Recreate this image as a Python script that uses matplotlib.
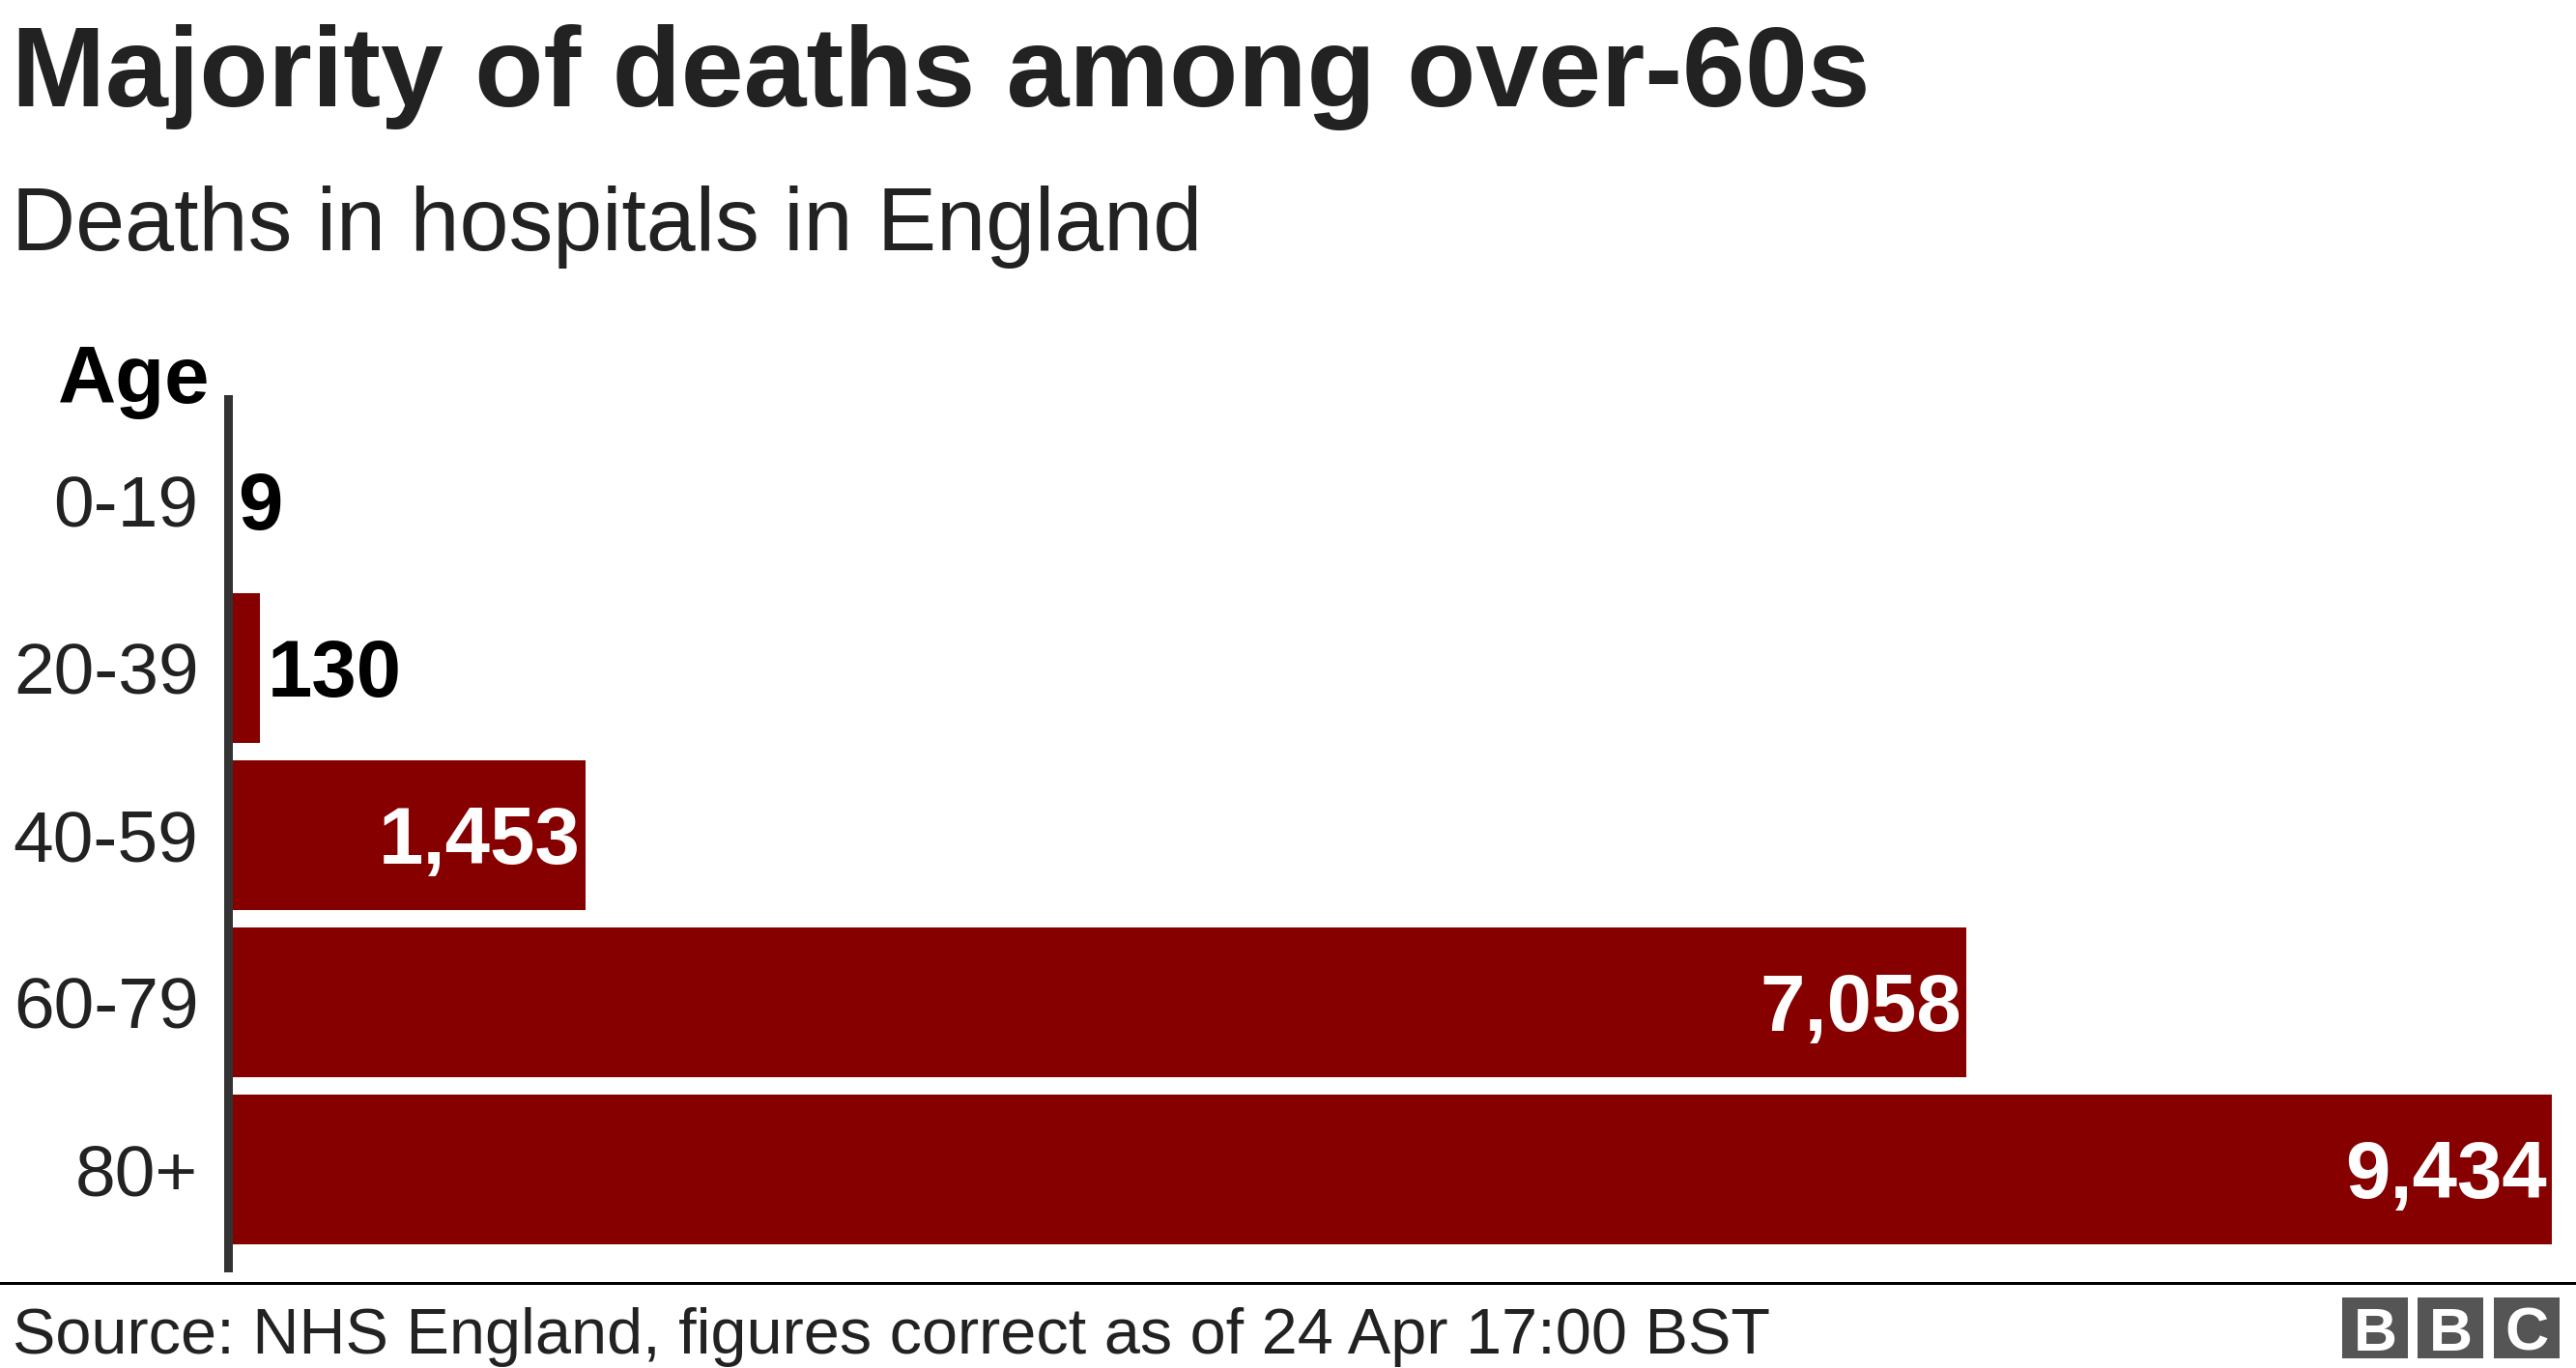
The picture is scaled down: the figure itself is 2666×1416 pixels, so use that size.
import matplotlib
matplotlib.use("Agg")
import matplotlib.pyplot as plt
from matplotlib.patches import Rectangle

# ---- data ----
age_groups = ["0-19", "20-39", "40-59", "60-79", "80+"]
deaths = [9, 130, 1453, 7058, 9434]
value_labels = ["9", "130", "1,453", "7,058", "9,434"]

title = "Majority of deaths among over-60s"
subtitle = "Deaths in hospitals in England"
axis_title = "Age"
source = "Source: NHS England, figures correct as of 24 Apr 17:00 BST"

W, H = 2666, 1416
DPI = 100
plt.rcParams['font.family'] = ['Liberation Sans', 'DejaVu Sans']

fig = plt.figure(figsize=(W / DPI, H / DPI), dpi=DPI)
fig.patch.set_facecolor("white")

def fx(px):
    return px / W

def fy(py_top):
    return (H - py_top) / H

bar_color = "#860000"
text_dark = "#222222"

ax_left, ax_right = 236, 2641
ax_top, ax_bottom = 413, 1312
ax = fig.add_axes([fx(ax_left), fy(ax_bottom), fx(ax_right - ax_left), (ax_bottom - ax_top) / H])

y = list(range(len(age_groups)))
ax.barh(y, deaths, height=0.896, color=bar_color, zorder=1)
ax.set_xlim(0, max(deaths))
ax.set_ylim(4.587, -0.61)

for s in ["top", "right", "bottom"]:
    ax.spines[s].set_visible(False)
ax.spines["left"].set_linewidth(9 * 72 / DPI)
ax.spines["left"].set_color("#333333")
ax.spines["left"].set_zorder(3)
ax.set_xticks([])
ax.set_yticks(y)
ax.set_yticklabels(age_groups, fontsize=54, color=text_dark)
ax.tick_params(axis="y", length=0, pad=22)

cap_offset = -0.716 * 60 / 2
for yi, v, lab in zip(y, deaths, value_labels):
    if v > 1000:
        ax.annotate(lab, (v, yi), xytext=(-4, cap_offset), textcoords="offset points",
                    ha="right", va="baseline", fontsize=60, fontweight="bold", color="white")
    else:
        ax.annotate(lab, (v, yi), xytext=(5.5, cap_offset), textcoords="offset points",
                    ha="left", va="baseline", fontsize=60, fontweight="bold", color="black")

# titles
fig.text(fx(12), fy(110), title, fontsize=84, fontweight="bold", color=text_dark, va="baseline", ha="left")
fig.text(fx(12), fy(259), subtitle, fontsize=66, color=text_dark, va="baseline", ha="left")
fig.text(fx(217), fy(417), axis_title, fontsize=60, fontweight="bold", color="black", va="baseline", ha="right")

# bottom rule and source
fig.add_artist(plt.Line2D([0, 1], [fy(1328), fy(1328)], color="black", linewidth=3 * 72 / DPI))
fig.text(fx(13), fy(1401), source, fontsize=48, color=text_dark, va="baseline", ha="left")

# BBC logo
for x0, letter in zip([2424, 2502, 2581], "BBC"):
    fig.add_artist(Rectangle((fx(x0), fy(1406)), fx(68), 63 / H, transform=fig.transFigure,
                             facecolor="#555555", edgecolor="none"))
    fig.text(fx(x0 + 34), fy(1374.5), letter, fontsize=45, fontweight="bold", color="white",
             ha="center", va="center_baseline")

fig.savefig("out.png", dpi=DPI, facecolor="white")
